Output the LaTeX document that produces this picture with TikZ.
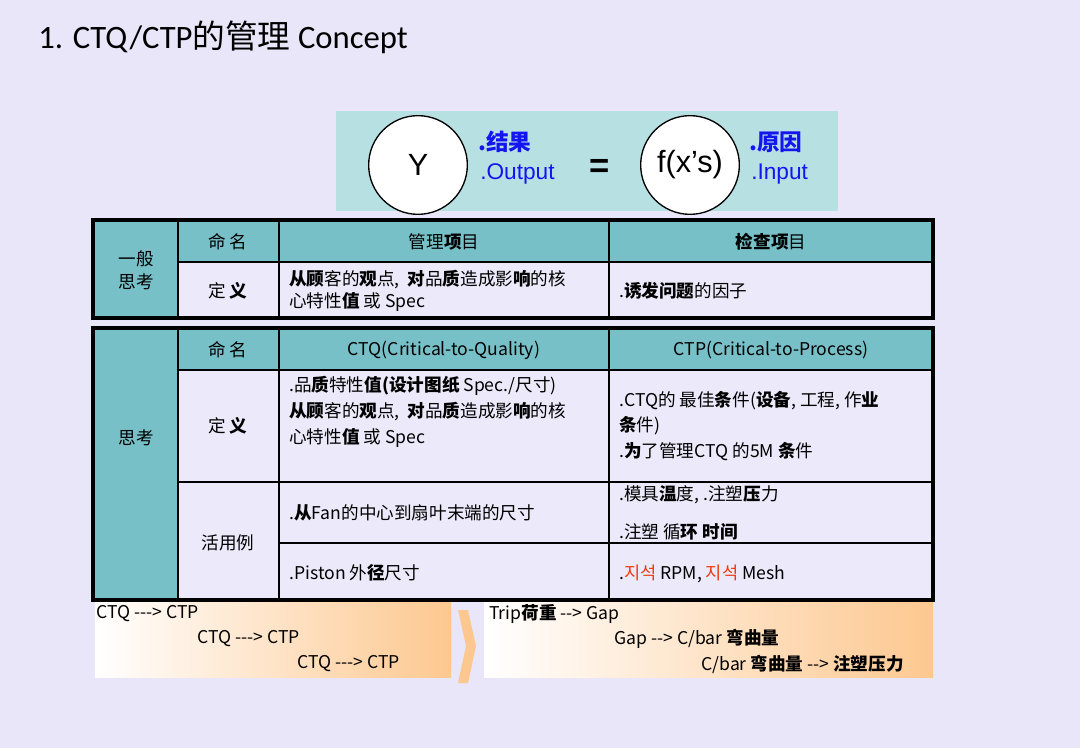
\documentclass[tikz,border=0pt]{standalone}
\usepackage{fontspec}
\setmainfont{Noto Sans CJK SC}
\newfontfamily\titlefont{Carlito}
\newfontfamily\cjk{Noto Sans CJK SC}
\newfontfamily\kr{Noto Sans CJK KR}
\newfontfamily\ar{Liberation Sans}
\usetikzlibrary{shapes.geometric}
\definecolor{bg}{HTML}{E8E6F8}
\definecolor{teal}{HTML}{77C0C8}
\definecolor{lteal}{HTML}{B7E0E3}
\definecolor{cell}{HTML}{ECEAFA}
\definecolor{org}{HTML}{FDC890}
\definecolor{bl}{HTML}{1515F0}
\definecolor{rd}{HTML}{F03A10}
\tikzset{
  txt/.style={font=\fontsize{13.2}{17}\selectfont, anchor=west, align=left, inner sep=0pt},
  ctxt/.style={font=\fontsize{13.2}{17}\selectfont, align=center, inner sep=0pt},
  hd/.style={fill=teal, draw=black, line width=0.9pt},
  cl/.style={fill=cell, draw=black, line width=0.9pt},
  frame/.style={draw=black, line width=2.4pt},
  bl2/.style={font=\fontsize{17}{20}\selectfont\ar, text=bl, anchor=west, inner sep=0pt},
  circ/.style={circle, draw=black, line width=1pt, fill=white, minimum size=74pt, inner sep=0pt, font=\fontsize{23}{26}\selectfont\ar},
}
\begin{document}
\begin{tikzpicture}[x=0.75pt,y=-0.75pt]
\fill[bg] (0,0) rectangle (1080,748);
\useasboundingbox (0,0) rectangle (1080,748);
\node[anchor=west, inner sep=0pt, font=\fontsize{24.5}{28}\selectfont\titlefont] (title) at (38,37) {1. CTQ/CTP{\cjk 的管理} Concept};
% top box
\fill[lteal] (336,111) rectangle (838,211);
\node[circ] (y) at (418,165) {Y};
\node[circ] (f) at (690,165) {f(x’s)};
\node[bl2, font=\fontsize{17}{20}\selectfont\cjk\bfseries] (r1) at (478,142) {.结果};
\node[bl2] (o1) at (480,174) {.Output};
\node[font=\fontsize{26}{26}\selectfont\ar\bfseries, inner sep=0pt] (eq) at (600,168) {=};
\node[bl2, font=\fontsize{17}{20}\selectfont\cjk\bfseries] (r2) at (749,142) {.原因};
\node[bl2] (i1) at (751,174) {.Input};
% table 1
\draw[hd] (93,220) rectangle (178,318);
\draw[hd] (178,220) rectangle (279,262);
\draw[hd] (279,220) rectangle (609,262);
\draw[hd] (609,220) rectangle (933,262);
\draw[cl] (178,262) rectangle (279,318);
\draw[cl] (279,262) rectangle (609,318);
\draw[cl] (609,262) rectangle (933,318);
\draw[frame] (93,220) rectangle (933,318);
\node[ctxt] (a1) at (136,270) {一般\\思考};
\node[ctxt] (a2) at (228,242) {命 名};
\node[ctxt] (a3) at (444,242) {管理\textbf{项}目};
\node[ctxt] (a4) at (771,242) {\textbf{检查项}目};
\node[ctxt] (a5) at (228,291) {定 \textbf{义}};
\node[txt] (a6) at (289,291) {\textbf{从顾}客的\textbf{观}点,\ \ \textbf{对}品\textbf{质}造成影\textbf{响}的核\\心特性\textbf{值} 或 Spec};
\node[txt] (a7) at (619,291) {.\textbf{诱发问题}的因子};
% table 2
\draw[hd] (93,328) rectangle (178,600);
\draw[hd] (178,328) rectangle (279,370);
\draw[hd] (279,328) rectangle (609,370);
\draw[hd] (609,328) rectangle (933,370);
\draw[cl] (178,370) rectangle (279,482);
\draw[cl] (279,370) rectangle (609,482);
\draw[cl] (609,370) rectangle (933,482);
\draw[cl] (178,482) rectangle (279,600);
\draw[cl] (279,482) rectangle (609,543);
\draw[cl] (609,482) rectangle (933,543);
\draw[cl] (279,543) rectangle (609,600);
\draw[cl] (609,543) rectangle (933,600);
\draw[frame] (93,328) rectangle (933,600);
\node[ctxt] (b1) at (136,438) {思考};
\node[ctxt] (b2) at (228,350) {命 名};
\node[ctxt] (b3) at (444,350) {CTQ(Critical-to-Quality)};
\node[ctxt] (b4) at (771,350) {CTP(Critical-to-Process)};
\node[ctxt] (b5) at (228,426) {定 \textbf{义}};
\node[txt, anchor=north west, font=\fontsize{13.2}{19.5}\selectfont] (b6) at (289,376) {.品\textbf{质}特性\textbf{值(设计图纸} Spec./尺寸)\\\textbf{从顾}客的\textbf{观}点,\ \ \textbf{对}品\textbf{质}造成影\textbf{响}的核\\心特性\textbf{值} 或 Spec};
\node[txt, anchor=north west, font=\fontsize{13.2}{19}\selectfont] (b7) at (619,391) {.CTQ的 最佳\textbf{条}件(\textbf{设备}, 工程, 作\textbf{业}\\\textbf{条}件)};
\node[txt] (b7b) at (619,452) {.\textbf{为}了管理CTQ 的5M \textbf{条}件};
\node[ctxt] (b8) at (228,543) {活用例};
\node[txt] (b9) at (289,513) {.\textbf{从}Fan的中心到扇叶末端的尺寸};
\node[txt, font=\fontsize{13.2}{28}\selectfont] (b10) at (619,513) {.模具\textbf{温}度, .注塑\textbf{压}力\\.注塑 循\textbf{环} \textbf{时间}};
\node[txt] (b11) at (289,573) {.Piston 外\textbf{径}尺寸};
\node[txt] (b12) at (619,574) {.{\kr\color{rd}지석} RPM, {\kr\color{rd}지석} Mesh};
% bottom
\shade[left color=white, right color=org] (95,602) rectangle (451,677);
\fill[org] (458,610) -- (468,610) -- (476,646) -- (468,683) -- (458,683) -- (466,646) -- cycle;
\shade[left color=white, right color=org] (484,602) rectangle (933,677);
\node[txt] (c1) at (96,614) {CTQ {-}{-}{-}\textgreater\ CTP};
\node[txt] (c2) at (197,639) {CTQ {-}{-}{-}\textgreater\ CTP};
\node[txt] (c3) at (297,664) {CTQ {-}{-}{-}\textgreater\ CTP};
\node[txt] (d1) at (489,614) {Trip\textbf{荷重} {-}{-}\textgreater\ Gap};
\node[txt] (d2) at (614,639) {Gap {-}{-}\textgreater\ C/bar \textbf{弯曲量}};
\node[txt] (d3) at (701,664) {C/bar \textbf{弯曲量} {-}{-}\textgreater\ \textbf{注塑压力}};
\end{tikzpicture}
\end{document}
